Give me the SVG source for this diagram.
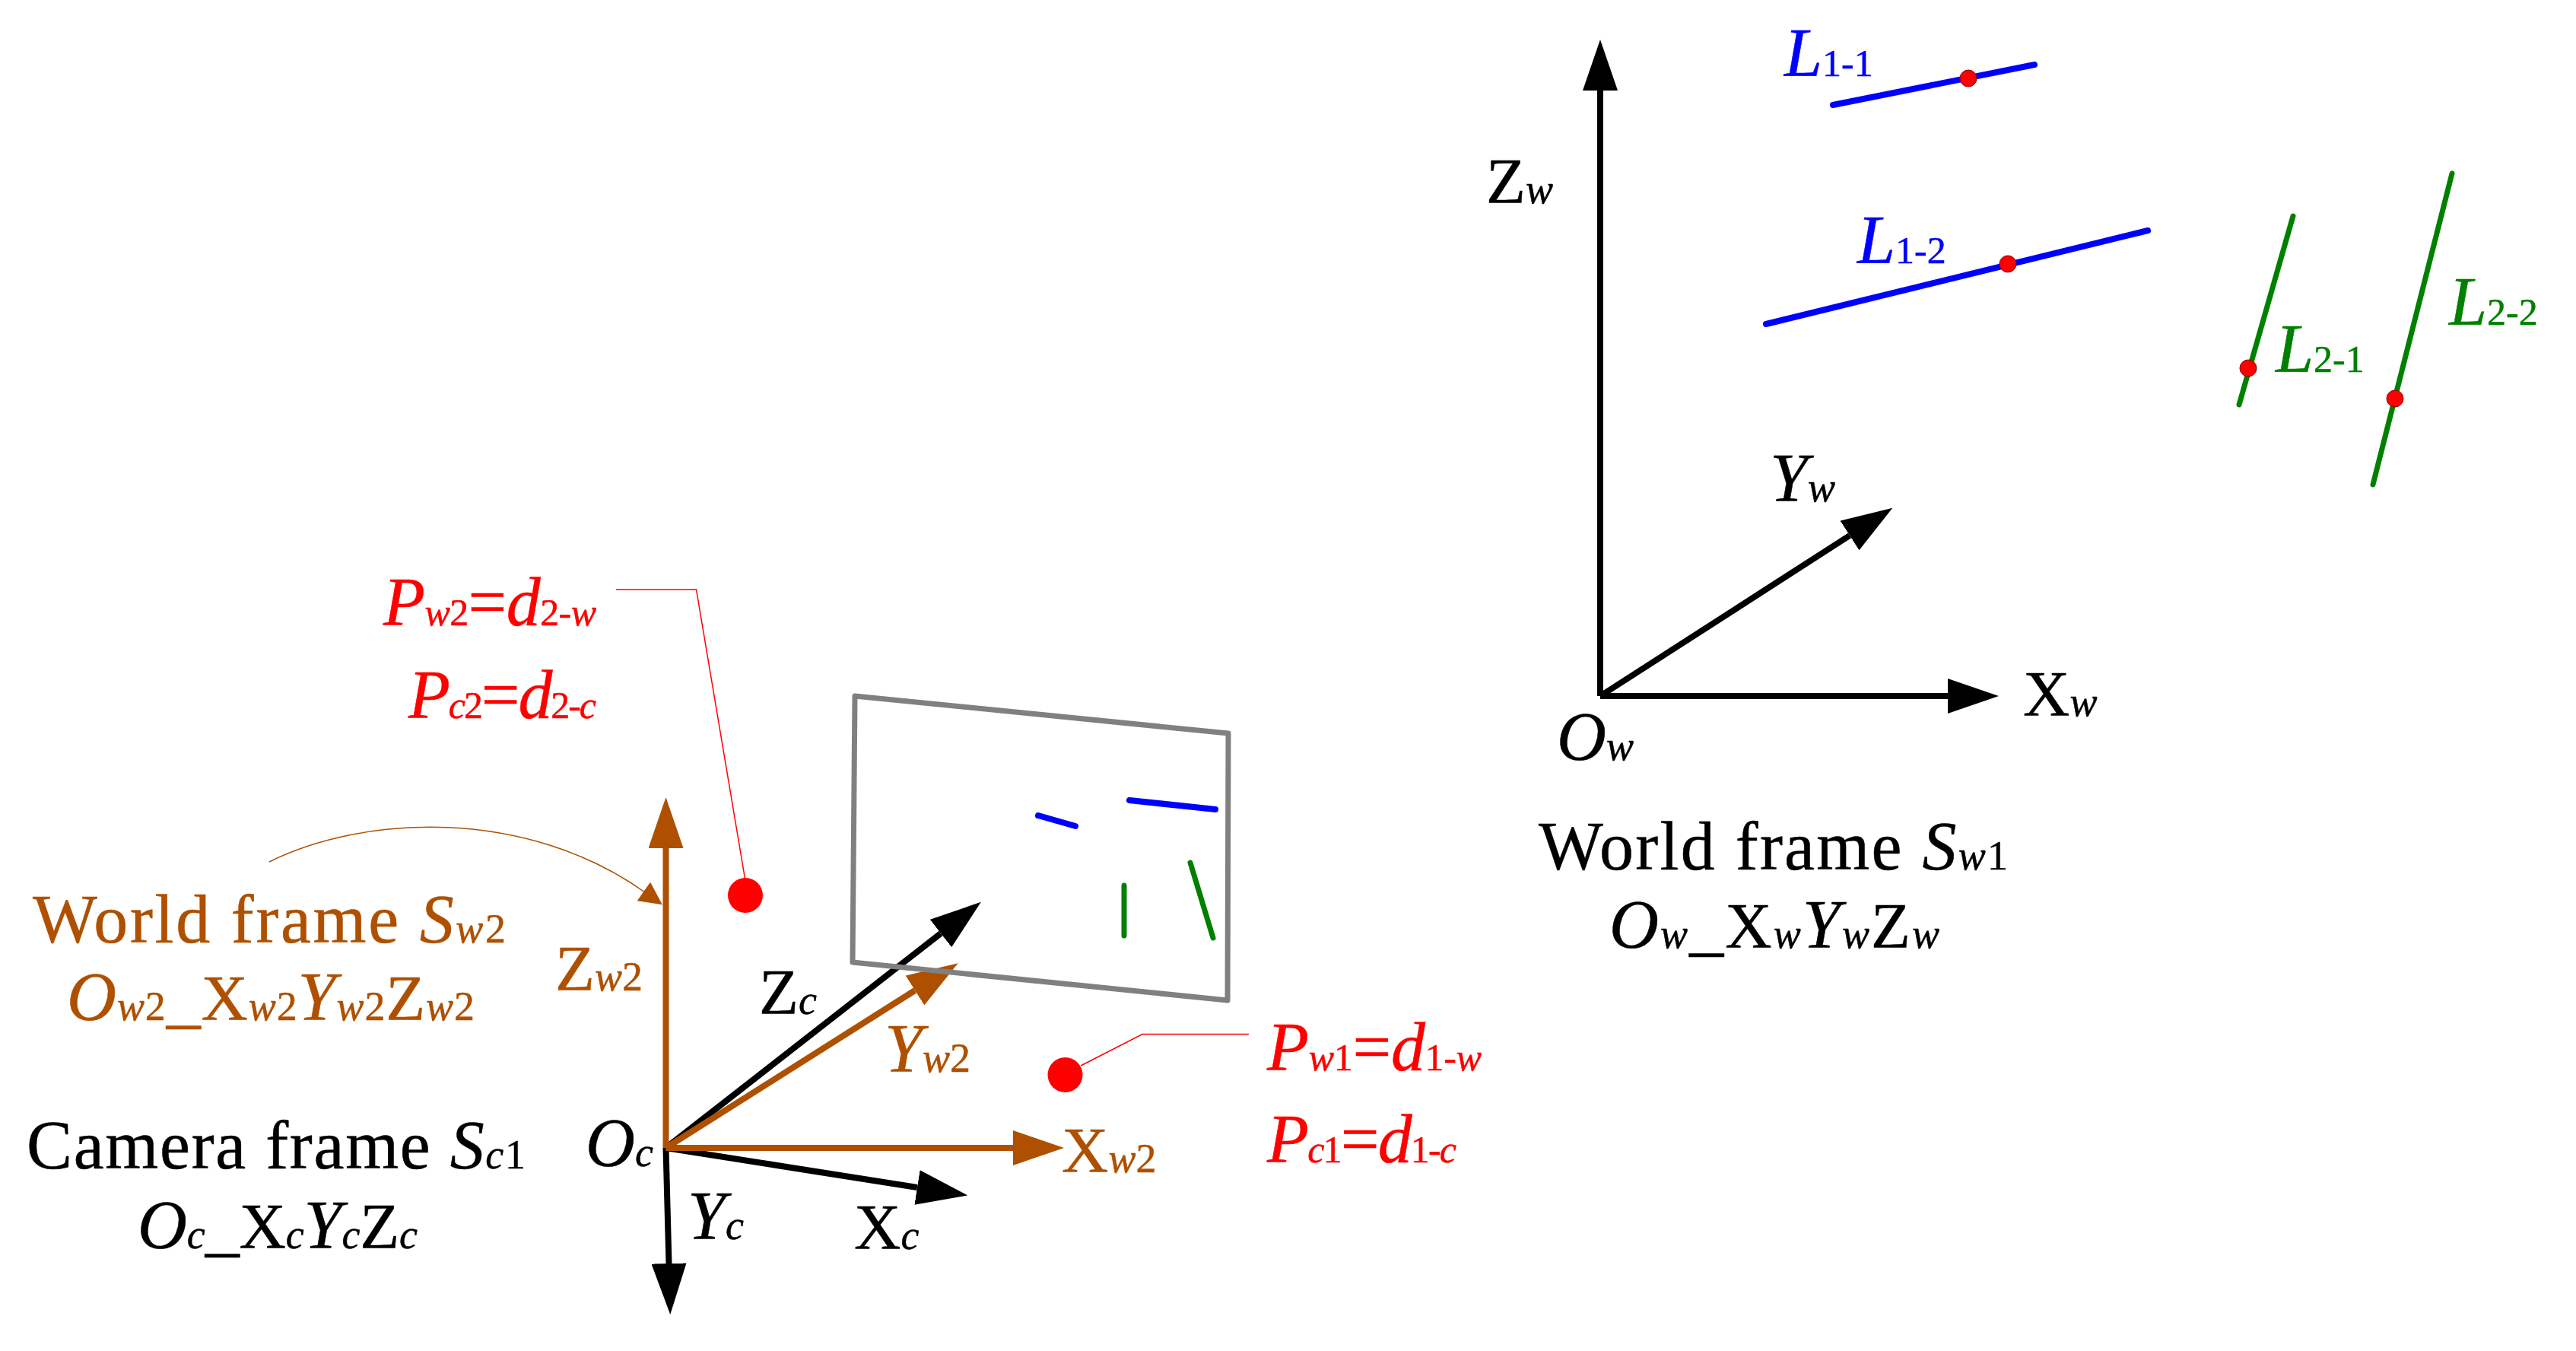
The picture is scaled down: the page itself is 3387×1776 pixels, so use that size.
<svg xmlns="http://www.w3.org/2000/svg" width="3387" height="1776" viewBox="0 0 3387 1776">
<style>
text{font-family:"Liberation Serif","Times New Roman",serif;font-size:90px;font-style:italic;stroke-width:.5}
.r{font-style:normal}
tspan.c{font-style:normal;font-size:85px}
tspan.s{font-size:54px}
tspan.t{font-size:50px}
.k{fill:#000;stroke:#000}.b{fill:#AE5000;stroke:#AE5000}.e{fill:#f00;stroke:#f00}.u{fill:#00f;stroke:#00f}.g{fill:#008000;stroke:#008000}
line,path.l,polyline{fill:none}
.ka{stroke:#000;stroke-width:8}
.ba{stroke:#AE5000;stroke-width:8}
.bl{stroke:#00f;stroke-width:8;stroke-linecap:round}
.gr{stroke:#008000;stroke-width:7;stroke-linecap:round}
.thin{stroke:#f00;stroke-width:1.5}
.dot{fill:#f00}
.sd{fill:#f00;stroke:#800;stroke-width:1}
</style>
<defs>
<marker id="hk" markerUnits="userSpaceOnUse" markerWidth="68" markerHeight="46" refX="0" refY="23" orient="auto"><path d="M0 0L67 23L0 46z" fill="#000"/></marker>
<marker id="hb" markerUnits="userSpaceOnUse" markerWidth="68" markerHeight="46" refX="0" refY="23" orient="auto"><path d="M0 0L67 23L0 46z" fill="#AE5000"/></marker>
<marker id="hc" markerUnits="userSpaceOnUse" markerWidth="32" markerHeight="30" refX="2" refY="15" orient="auto"><path d="M0 0L30 15L0 30z" fill="#AE5000"/></marker>
</defs>
<g id="connectors">
<line class="ka" x1="2104" y1="915" x2="2104" y2="119" marker-end="url(#hk)"/>
<line class="ka" x1="2104" y1="915" x2="2561" y2="915" marker-end="url(#hk)"/>
<line class="ka" x1="2104" y1="915" x2="2432" y2="704" marker-end="url(#hk)"/>
<line class="ka" x1="875.5" y1="1509" x2="1237" y2="1227" marker-end="url(#hk)"/>
<line class="ka" x1="875.5" y1="1509" x2="1206" y2="1561" marker-end="url(#hk)"/>
<line class="ka" x1="875.5" y1="1509" x2="879.5" y2="1661" marker-end="url(#hk)"/>
<line class="ba" x1="875.5" y1="1509" x2="875.5" y2="1115" marker-end="url(#hb)"/>
<line class="ba" x1="875.5" y1="1509" x2="1203" y2="1302" marker-end="url(#hb)"/>
<line class="ba" x1="875.5" y1="1509" x2="1332" y2="1509" marker-end="url(#hb)"/>
<path class="l" d="M354 1133C480 1071 690 1061 848 1173" stroke="#AE5000" stroke-width="1.5" marker-end="url(#hc)"/>
<polyline class="thin" points="810,775 915.5,775 980,1158"/>
<polyline class="thin" points="1421,1401 1502,1359.5 1642,1359.5"/>
</g>
<g id="image-plane">
<polygon points="1124,915 1615,964 1614,1315 1121,1265" fill="none" stroke="#808080" stroke-width="7" stroke-linejoin="round"/>
<line class="bl" x1="1365" y1="1072" x2="1414" y2="1086"/>
<line class="bl" x1="1485" y1="1052" x2="1598" y2="1064"/>
<line class="gr" x1="1478" y1="1164" x2="1478" y2="1230"/>
<line class="gr" x1="1565" y1="1134" x2="1595" y2="1233"/>
</g>
<g id="line-L1-1"><line class="bl" x1="2410" y1="138" x2="2675" y2="85"/><circle class="sd" cx="2588" cy="103" r="11"/><text class="u" x="2346" y="100">L<tspan class="t r">1-1</tspan></text></g>
<g id="line-L1-2"><line class="bl" x1="2322" y1="426" x2="2824" y2="303"/><circle class="sd" cx="2640" cy="347" r="11"/><text class="u" x="2442" y="346">L<tspan class="t r">1-2</tspan></text></g>
<g id="line-L2-1"><line class="gr" x1="2944" y1="532" x2="3015" y2="284"/><circle class="sd" cx="2956" cy="484" r="11"/><text class="g" x="2992" y="489">L<tspan class="t r">2-1</tspan></text></g>
<g id="line-L2-2"><line class="gr" x1="3120" y1="637" x2="3224" y2="228"/><circle class="sd" cx="3149" cy="524" r="11"/><text class="g" x="3220" y="427">L<tspan class="t r">2-2</tspan></text></g>
<g id="point-1"><circle class="dot" cx="1400.5" cy="1413" r="23"/></g>
<g id="point-2"><circle class="dot" cx="980" cy="1177" r="23"/></g>
<g id="label-Zw"><text class="k" x="1954" y="267"><tspan class="c">Z</tspan><tspan class="s">w</tspan></text></g>
<g id="label-Yw"><text class="k" x="2327" y="659">Y<tspan class="s">w</tspan></text></g>
<g id="label-Xw"><text class="k" x="2660" y="941"><tspan class="c">X</tspan><tspan class="s">w</tspan></text></g>
<g id="label-Ow"><text class="k" x="2047" y="999">O<tspan class="s">w</tspan></text></g>
<g id="world-frame-1">
<text class="k" x="2023" y="1143" textLength="617"><tspan class="r">World frame </tspan>S<tspan class="s">w</tspan><tspan class="s r">1</tspan></text>
<text class="k" x="2116" y="1246" textLength="434">O<tspan class="s">w</tspan>_<tspan class="c">X</tspan><tspan class="s">w</tspan>Y<tspan class="s">w</tspan><tspan class="c">Z</tspan><tspan class="s">w</tspan></text>
</g>
<g id="label-P2">
<text class="e" x="504" y="822" textLength="280">P<tspan class="t">w</tspan><tspan class="t r">2</tspan><tspan class="r">=</tspan>d<tspan class="t r">2-</tspan><tspan class="t">w</tspan></text>
<text class="e" x="537" y="944" textLength="247">P<tspan class="t">c</tspan><tspan class="t r">2</tspan><tspan class="r">=</tspan>d<tspan class="t r">2-</tspan><tspan class="t">c</tspan></text>
</g>
<g id="label-P1">
<text class="e" x="1666" y="1407" textLength="282">P<tspan class="t">w</tspan><tspan class="t r">1</tspan><tspan class="r">=</tspan>d<tspan class="t r">1-</tspan><tspan class="t">w</tspan></text>
<text class="e" x="1666" y="1528" textLength="249">P<tspan class="t">c</tspan><tspan class="t r">1</tspan><tspan class="r">=</tspan>d<tspan class="t r">1-</tspan><tspan class="t">c</tspan></text>
</g>
<g id="world-frame-2">
<text class="b" x="43" y="1239" textLength="622"><tspan class="r">World frame </tspan>S<tspan class="s">w</tspan><tspan class="s r">2</tspan></text>
<text class="b" x="88" y="1341" textLength="536">O<tspan class="s">w</tspan><tspan class="s r">2</tspan>_<tspan class="c">X</tspan><tspan class="s">w</tspan><tspan class="s r">2</tspan>Y<tspan class="s">w</tspan><tspan class="s r">2</tspan><tspan class="c">Z</tspan><tspan class="s">w</tspan><tspan class="s r">2</tspan></text>
</g>
<g id="label-Zw2"><text class="b" x="730" y="1302"><tspan class="c">Z</tspan><tspan class="s">w</tspan><tspan class="s r">2</tspan></text></g>
<g id="label-Yw2"><text class="b" x="1163" y="1409">Y<tspan class="s">w</tspan><tspan class="s r">2</tspan></text></g>
<g id="label-Xw2"><text class="b" x="1396" y="1541"><tspan class="c">X</tspan><tspan class="s">w</tspan><tspan class="s r">2</tspan></text></g>
<g id="camera-frame">
<text class="k" x="35" y="1536" textLength="656"><tspan class="r">Camera frame </tspan>S<tspan class="s">c</tspan><tspan class="s r">1</tspan></text>
<text class="k" x="181" y="1641" textLength="368">O<tspan class="s">c</tspan>_<tspan class="c">X</tspan><tspan class="s">c</tspan>Y<tspan class="s">c</tspan><tspan class="c">Z</tspan><tspan class="s">c</tspan></text>
</g>
<g id="label-Oc"><text class="k" x="770" y="1533">O<tspan class="s">c</tspan></text></g>
<g id="label-Yc"><text class="k" x="904" y="1629">Y<tspan class="s">c</tspan></text></g>
<g id="label-Zc"><text class="k" x="998" y="1333"><tspan class="c">Z</tspan><tspan class="s">c</tspan></text></g>
<g id="label-Xc"><text class="k" x="1123" y="1642"><tspan class="c">X</tspan><tspan class="s">c</tspan></text></g>
</svg>
